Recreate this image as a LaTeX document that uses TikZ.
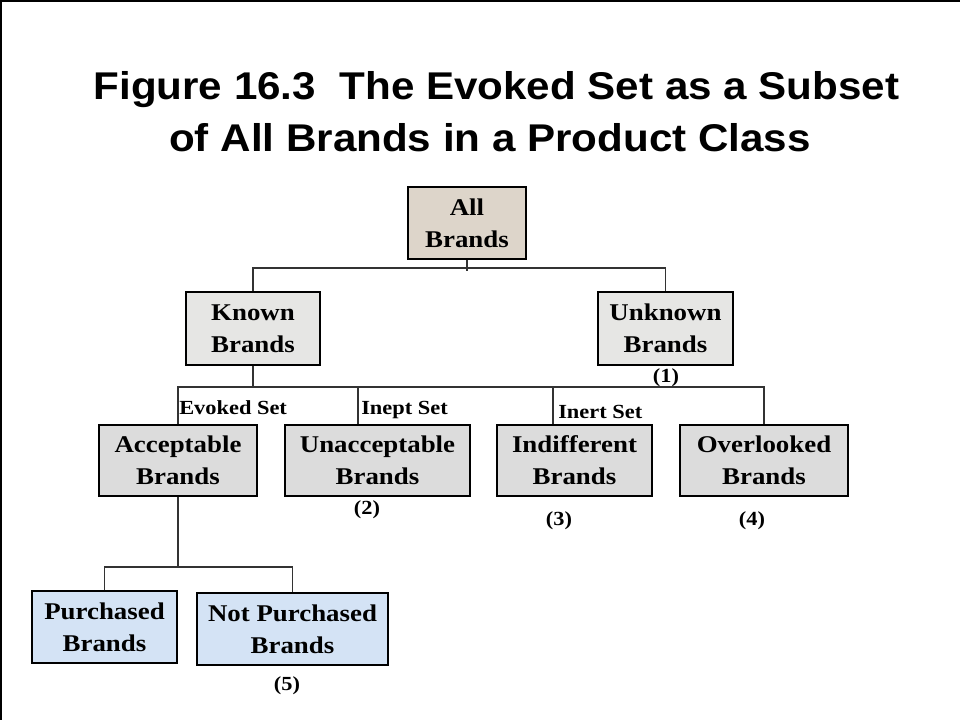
\documentclass[tikz,border=0pt]{standalone}
\usepackage{fontspec}
\setmainfont{Liberation Serif}[FakeStretch=1.12]
\newfontfamily\titlefont{Liberation Sans}[FakeStretch=1.09]
\usetikzlibrary{calc}
\definecolor{beigefill}{HTML}{DDD5CA}
\definecolor{granite}{HTML}{E6E6E4}
\definecolor{marble}{HTML}{DCDCDC}
\definecolor{paleblue}{HTML}{D4E3F5}
\definecolor{linegray}{HTML}{333333}
\begin{document}
\begin{tikzpicture}[x=0.75pt,y=-0.75pt,
  box/.style={draw=black, line width=0.8pt, inner sep=0pt, align=center,
    font=\bfseries\fontsize{18}{24}\selectfont},
  bsize/.style 2 args={minimum width={#1*0.75pt}, minimum height={#2*0.75pt}},
  setlabel/.style={inner sep=0pt, anchor=base west, font=\bfseries\fontsize{15}{18}\selectfont},
  numlabel/.style={inner sep=0pt, font=\bfseries\fontsize{15}{18}\selectfont},
  titletext/.style={inner sep=0pt, anchor=base, font=\titlefont\bfseries\fontsize{29}{39}\selectfont},
  conn/.style={draw=linegray, line width=0.8pt},
  frameline/.style={draw=black, line width=1.5pt}]
\useasboundingbox (0,0) rectangle (960,720);
\fill[white] (0,0) rectangle (960,720);
\draw[frameline] (1,720) -- (1,1) -- (960,1);

% title
\node[titletext] (title1) at (496.5,100) {Figure 16.3\ \ The Evoked Set as a Subset};
\node[titletext] (title2) at (490,152) {of All Brands in a Product Class};

% boxes
\node[box, bsize={118}{72}, fill=beigefill] (all) at (467,223) {All\\Brands};
\node[box, bsize={134}{73}, fill=granite] (known) at (253,328.5) {Known\\Brands};
\node[box, bsize={135}{73}, fill=granite] (unknown) at (665.5,328.5) {Unknown\\Brands};
\node[box, bsize={158}{71}, fill=marble] (accept) at (178,460.5) {Acceptable\\Brands};
\node[box, bsize={185}{71}, fill=marble] (unaccept) at (377.5,460.5) {Unacceptable\\Brands};
\node[box, bsize={155}{71}, fill=marble] (indiff) at (574.5,460.5) {Indifferent\\Brands};
\node[box, bsize={168}{71}, fill=marble] (overlook) at (764,460.5) {Overlooked\\Brands};
\node[box, bsize={145}{72}, fill=paleblue] (purch) at (104.5,627) {Purchased\\Brands};
\node[box, bsize={191}{72}, fill=paleblue] (notpurch) at (292.5,629) {Not Purchased\\Brands};

% bus coordinates
\coordinate (stub) at (467,271);
\coordinate (bus1) at (467,268);
\coordinate (bus2L) at (178,387);
\coordinate (bus2R) at (764,387);
\coordinate (inept) at (358,387);
\coordinate (inert) at (553,387);
\coordinate (bus3) at (178,567);

% connectors
\draw[conn] (all.south) -- (stub);
\draw[conn] (known.north) |- (bus1) -| (unknown.north);
\draw[conn] (known.south) -- (known.south |- bus2L);
\draw[conn] (accept.north) |- (bus2R) -- (overlook.north);
\draw[conn] (inept) -- (inept |- unaccept.north);
\draw[conn] (inert) -- (inert |- indiff.north);
\draw[conn] (accept.south) -- (bus3);
\draw[conn] (purch.north) |- (bus3) -| (notpurch.north);

% set labels
\node[setlabel] (evoked) at (179,414) {Evoked Set};
\node[setlabel] (ineptlbl) at (361,414) {Inept Set};
\node[setlabel] (inertlbl) at (558,418) {Inert Set};

% numbers
\node[numlabel] (n1) at (666,378) {(1)};
\node[numlabel] (n2) at (367,510) {(2)};
\node[numlabel] (n3) at (559,521) {(3)};
\node[numlabel] (n4) at (752,521) {(4)};
\node[numlabel] (n5) at (287,686) {(5)};
\end{tikzpicture}
\end{document}
